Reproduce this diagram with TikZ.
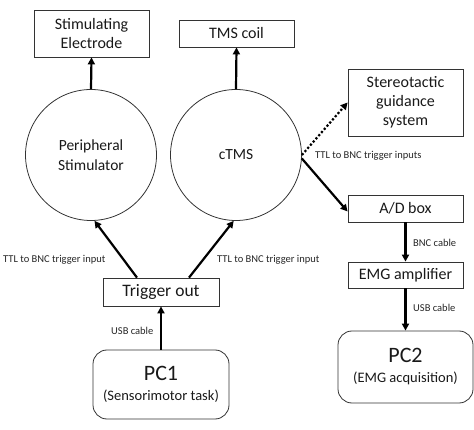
\documentclass[tikz,border=0pt]{standalone}
\usepackage{fontspec}
\setmainfont{Carlito}
\usetikzlibrary{arrows.meta}
\begin{document}
\begin{tikzpicture}[x=1pt,y=-1pt,
  box/.style={draw=black!80, line width=0.8pt, rectangle, inner sep=0pt, align=center, text=black!90, font=\fontsize{16}{19}\selectfont},
  rbox/.style={box, rounded corners=14pt},
  circ/.style={draw=black!80, line width=0.8pt, circle, inner sep=0pt, minimum size=131pt, align=center, text=black!90, font=\fontsize{15.5}{20}\selectfont},
  arr/.style={line width=2.2pt, -{Triangle[length=7pt,width=7pt]}},
  dotarr/.style={arr, dotted},
  lbl/.style={font=\fontsize{10.5}{12}\selectfont, text=black!85, inner sep=0pt}
]
\useasboundingbox (0,0) rectangle (474,430);
\node[box, minimum width=115pt, minimum height=47pt] (se) at (91.5,33.5) {Stimulating\\Electrode};
\node[box, minimum width=115pt, minimum height=27pt] (tc) at (236.5,33.5) {TMS coil};
\node[box, minimum width=115pt, minimum height=67pt] (st) at (405.5,102.5) {Stereotactic\\guidance\\system};
\node[box, minimum width=115pt, minimum height=27pt] (ad) at (405.5,208.5) {A/D box};
\node[box, minimum width=115pt, minimum height=26pt] (emg) at (405.5,275) {EMG amplifier};
\node[rbox, minimum width=135pt, minimum height=72pt] (pc2) at (405.5,367) {{\fontsize{22}{26}\selectfont PC2}\\[1pt]{\fontsize{14.5}{17}\selectfont (EMG acquisition)}};
\node[box, minimum width=116pt, minimum height=28pt, font=\fontsize{17.5}{20}\selectfont] (to) at (161,292) {Trigger out};
\node[rbox, minimum width=136pt, minimum height=69pt] (pc1) at (161,384.5) {{\fontsize{22}{26}\selectfont PC1}\\[1pt]{\fontsize{14.5}{17}\selectfont (Sensorimotor task)}};
\node[circ] (ps) at (91,155) {Peripheral\\Stimulator};
\node[circ] (ct) at (236,155) {cTMS};

\draw[arr] (ps.north) -- (se.south);
\draw[arr] (ct.north) -- (tc.south);
\draw[dotarr] (ct.east) -- (st.west);
\draw[arr] (ct.-3) -- ([yshift=-3pt]ad.west);
\draw[arr] (ad.south) -- (emg.north);
\draw[arr] (emg.south) -- (pc2.north);
\draw[arr] ([xshift=-24pt]to.north) -- (ps.-87);
\draw[arr] ([xshift=28pt]to.north) -- (ct.-92.5);
\draw[arr] (pc1.north) -- (to.south);

\node[lbl, anchor=west] (l1) at (315,156) {TTL to BNC trigger inputs};
\node[lbl, anchor=west] (l2) at (3,260) {TTL to BNC trigger input};
\node[lbl, anchor=west] (l3) at (217,260) {TTL to BNC trigger input};
\node[lbl, anchor=west] (l4) at (111,331) {USB cable};
\node[lbl, anchor=west] (l5) at (413,243) {BNC cable};
\node[lbl, anchor=west] (l6) at (413,308) {USB cable};
\end{tikzpicture}
\end{document}
